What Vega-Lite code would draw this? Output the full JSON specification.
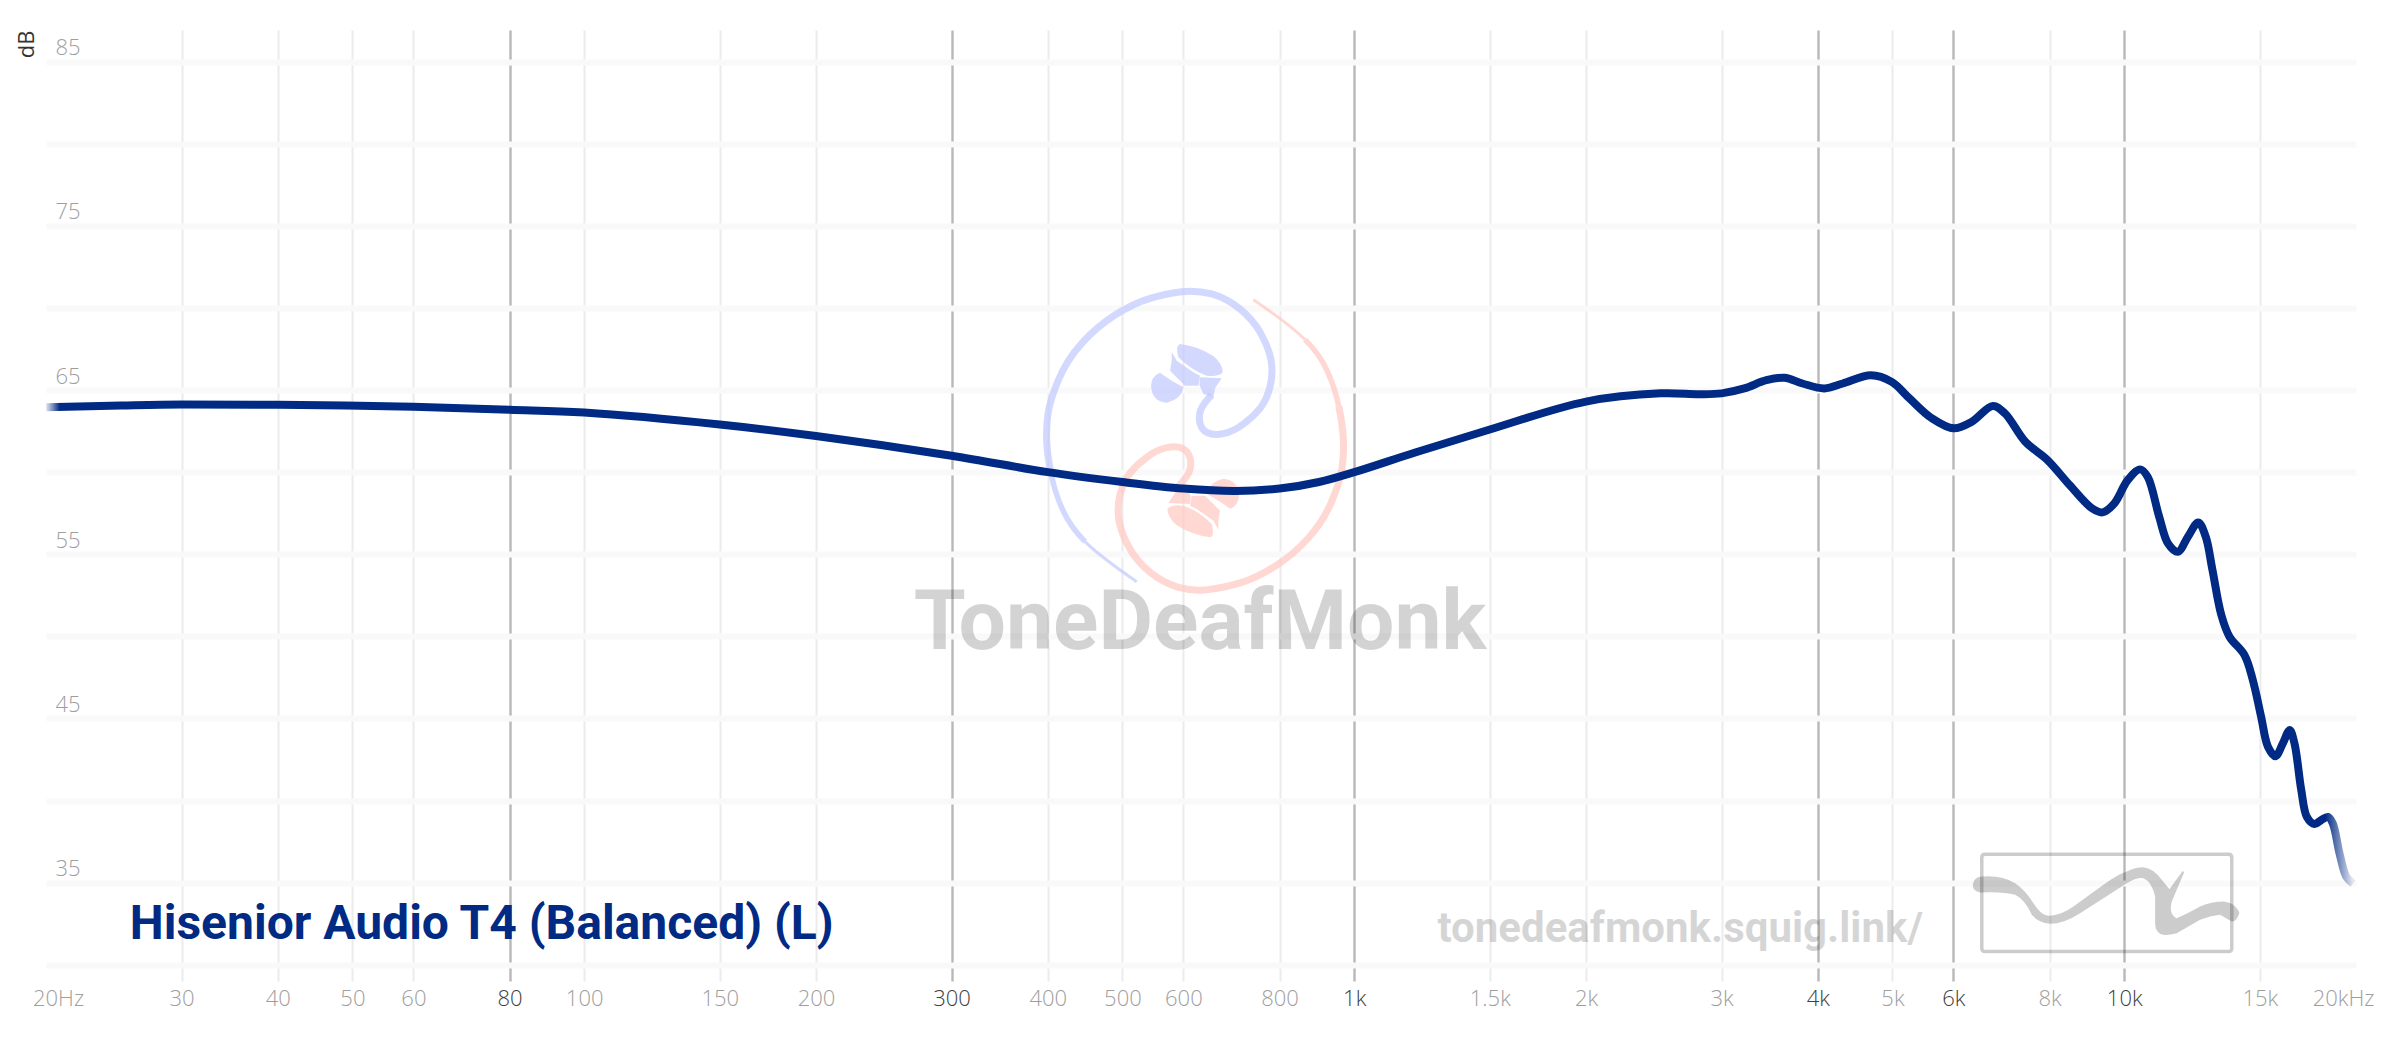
{
"$schema":"https://vega.github.io/schema/vega-lite/v6.json",
"width":2310,"height":951,"autosize":"none",
"padding":{"left":46,"top":30,"right":44,"bottom":57},
"background":"white",
"config":{"view":{"stroke":null}},
"datasets":{"curve":[
{"freq":20,"db":63.96},{"freq":25,"db":64.06},{"freq":30,"db":64.12},{"freq":40,"db":64.1},{"freq":60,"db":63.98},{"freq":80,"db":63.8},{"freq":100,"db":63.63},{"freq":150,"db":62.9},{"freq":200,"db":62.2},{"freq":300,"db":61},{"freq":400,"db":60},{"freq":500,"db":59.4},{"freq":600,"db":59},{"freq":700,"db":58.85},{"freq":800,"db":59},{"freq":900,"db":59.4},{"freq":1000,"db":60},{"freq":1200,"db":61.2},{"freq":1500,"db":62.6},{"freq":2000,"db":64.3},{"freq":2500,"db":64.8},{"freq":2810,"db":64.75},{"freq":3000,"db":64.8},{"freq":3210,"db":65.1},{"freq":3430,"db":65.6},{"freq":3620,"db":65.75},{"freq":3820,"db":65.4},{"freq":4080,"db":65.1},{"freq":4310,"db":65.4},{"freq":4690,"db":65.9},{"freq":4990,"db":65.5},{"freq":5260,"db":64.5},{"freq":5620,"db":63.3},{"freq":6010,"db":62.67},{"freq":6340,"db":63.07},{"freq":6750,"db":64.03},{"freq":7000,"db":63.58},{"freq":7440,"db":61.85},{"freq":7950,"db":60.74},{"freq":8500,"db":59.2},{"freq":9080,"db":57.8},{"freq":9370,"db":57.55},{"freq":9710,"db":58.1},{"freq":10100,"db":59.5},{"freq":10490,"db":60.17},{"freq":10730,"db":59.7},{"freq":11100,"db":57.3},{"freq":11400,"db":55.66},{"freq":11740,"db":55.15},{"freq":12100,"db":56.07},{"freq":12480,"db":56.94},{"freq":12760,"db":56.07},{"freq":13020,"db":54.04},{"freq":13370,"db":51.3},{"freq":13700,"db":49.98},{"freq":14330,"db":48.86},{"freq":14690,"db":47.34},{"freq":15060,"db":45.1},{"freq":15370,"db":43.28},{"freq":15720,"db":42.7},{"freq":16070,"db":43.48},{"freq":16400,"db":44.29},{"freq":16640,"db":43.48},{"freq":16980,"db":40.64},{"freq":17270,"db":39},{"freq":17670,"db":38.57},{"freq":18020,"db":38.81},{"freq":18390,"db":39},{"freq":18660,"db":38.6},{"freq":19040,"db":36.78},{"freq":19430,"db":35.36},{"freq":19820,"db":34.95}
]},
"encoding":{
"x":{"field":"freq","type":"quantitative","scale":{"type":"log","domain":[20,20000],"nice":false},
"axis":{"title":null,"values":[20,30,40,50,60,80,100,150,200,300,400,500,600,800,1000,1500,2000,3000,4000,5000,6000,8000,10000,15000,20000],
"domain":false,"ticks":false,"labelPadding":7,"labelFont":"Open Sans","labelFontSize":22,"labelFontWeight":300,"labelBound":false,"labelFlush":false,"labelOverlap":false,
"labelExpr":"datum.value==20?'20Hz':datum.value==20000?'20kHz':datum.value>=1000?(datum.value/1000)+'k':''+datum.value",
"labelColor":{"condition":{"test":"datum.value==80||datum.value==300||datum.value==1000||datum.value==4000||datum.value==6000||datum.value==10000","value":"#404040"},"value":"#9e9e9e"},
"labelOffset":{"condition":[{"test":"datum.value==20","value":12},{"test":"datum.value==20000","value":-13}],"value":0},
"grid":true,
"gridColor":{"condition":[{"test":"datum.value==20||datum.value==20000","value":"transparent"},{"test":"datum.value==80||datum.value==300||datum.value==1000||datum.value==4000||datum.value==6000||datum.value==10000","value":"#b8b8b8"}],"value":"#ebebeb"},
"gridWidth":{"condition":{"test":"datum.value==80||datum.value==300||datum.value==1000||datum.value==4000||datum.value==6000||datum.value==10000","value":2.4},"value":2}}},
"y":{"field":"db","type":"quantitative","scale":{"domain":[29.01,86.93],"nice":false,"zero":false},
"axis":{"title":"dB","titleFont":"Open Sans","titleFontSize":22,"titleFontWeight":"normal","titleColor":"#333333","titleX":-8,"titleY":14,"titleAnchor":"middle",
"values":[30,35,40,45,50,55,60,65,70,75,80,85],"domain":false,"ticks":false,"labelFont":"Open Sans","labelFontSize":22,"labelFontWeight":300,"labelColor":"#9e9e9e","labelAlign":"left","labelPadding":-9,"labelOffset":-7,"labelBaseline":"alphabetic","labelBound":false,"labelOverlap":false,
"labelExpr":"datum.value%10==5?''+datum.value:''",
"grid":true,"gridColor":"#f9f9f9","gridWidth":6}}
},
"layer":[
{"data":{"values":[{"freq":621.3,"db":61.92}]},"mark":{"type":"point","filled":false,"size":0.4444,"opacity":1,"fillOpacity":0,"strokeOpacity":0.7,"stroke":"#c0c8ff","strokeWidth":3,"shape":"M-175,423 Q-285,348 -330,303"}},
{"data":{"values":[{"freq":621.3,"db":61.92}]},"mark":{"type":"point","filled":false,"size":0.4444,"opacity":1,"fillOpacity":0,"strokeOpacity":0.7,"stroke":"#c0c8ff","strokeWidth":5.5,"shape":"M-330,303 Q-375,258 -397,208 Q-420,158 -431,103"}},
{"data":{"values":[{"freq":621.3,"db":61.92}]},"mark":{"type":"point","filled":false,"size":0.4444,"opacity":1,"fillOpacity":0,"strokeOpacity":0.7,"stroke":"#c0c8ff","strokeWidth":7,"shape":"M-431,103 Q-443,48 -445,3 Q-447,-42 -441,-82 Q-435,-122 -410,-182 Q-385,-242 -340,-292 Q-295,-342 -240,-377 Q-185,-412 -135,-427 Q-85,-442 -40,-447 Q5,-452 50,-440 Q95,-427 135,-395 Q175,-362 197,-322 Q220,-282 228,-242 Q235,-202 225,-162 Q215,-122 195,-97 Q175,-72 145,-50 Q115,-27 85,-21 Q55,-15 37,-24 Q20,-32 15,-52 Q10,-72 17,-92 Q25,-112 50,-137"}},
{"data":{"values":[{"freq":621.3,"db":61.92}]},"mark":{"type":"point","filled":true,"size":0.4444,"opacity":0.7,"fill":"#c0c8ff","strokeWidth":0,"shape":"M-45,-290 Q5,-285 55,-254 Q83,-230 83,-205 Q70,-190 35,-195 Q-10,-210 -50,-250 Q-60,-285 -45,-290 Z M-70,-267 L-55,-240 L-5,-205 L15,-195 L10,-165 L-30,-165 L-75,-210 L-70,-240 Z M15,-190 L80,-187 L60,-157 L55,-132 L25,-140 L13,-167 Z M-105,-204 Q-80,-185 -35,-160 Q-40,-125 -85,-114 Q-130,-118 -132,-165 Q-130,-195 -105,-204 Z"}},
{"data":{"values":[{"freq":621.3,"db":61.92}]},"mark":{"type":"point","filled":false,"angle":180,"size":0.4444,"opacity":1,"fillOpacity":0,"strokeOpacity":0.7,"stroke":"#ffc8c0","strokeWidth":3,"shape":"M-175,423 Q-285,348 -330,303"}},
{"data":{"values":[{"freq":621.3,"db":61.92}]},"mark":{"type":"point","filled":false,"angle":180,"size":0.4444,"opacity":1,"fillOpacity":0,"strokeOpacity":0.7,"stroke":"#ffc8c0","strokeWidth":5.5,"shape":"M-330,303 Q-375,258 -397,208 Q-420,158 -431,103"}},
{"data":{"values":[{"freq":621.3,"db":61.92}]},"mark":{"type":"point","filled":false,"angle":180,"size":0.4444,"opacity":1,"fillOpacity":0,"strokeOpacity":0.7,"stroke":"#ffc8c0","strokeWidth":7,"shape":"M-431,103 Q-443,48 -445,3 Q-447,-42 -441,-82 Q-435,-122 -410,-182 Q-385,-242 -340,-292 Q-295,-342 -240,-377 Q-185,-412 -135,-427 Q-85,-442 -40,-447 Q5,-452 50,-440 Q95,-427 135,-395 Q175,-362 197,-322 Q220,-282 228,-242 Q235,-202 225,-162 Q215,-122 195,-97 Q175,-72 145,-50 Q115,-27 85,-21 Q55,-15 37,-24 Q20,-32 15,-52 Q10,-72 17,-92 Q25,-112 50,-137"}},
{"data":{"values":[{"freq":621.3,"db":61.92}]},"mark":{"type":"point","filled":true,"angle":180,"size":0.4444,"opacity":0.7,"fill":"#ffc8c0","strokeWidth":0,"shape":"M-45,-290 Q5,-285 55,-254 Q83,-230 83,-205 Q70,-190 35,-195 Q-10,-210 -50,-250 Q-60,-285 -45,-290 Z M-70,-267 L-55,-240 L-5,-205 L15,-195 L10,-165 L-30,-165 L-75,-210 L-70,-240 Z M15,-190 L80,-187 L60,-157 L55,-132 L25,-140 L13,-167 Z M-105,-204 Q-80,-185 -35,-160 Q-40,-125 -85,-114 Q-130,-118 -132,-165 Q-130,-195 -105,-204 Z"}},
{"data":{"values":[{"freq":630.6,"db":50.76,"label":"ToneDeafMonk"}]},"mark":{"type":"text","font":"Roboto","fontWeight":"bold","fontSize":84,"align":"center","baseline":"middle","fill":"#000000","opacity":0.17},"encoding":{"text":{"field":"label"}}},
{"data":{"values":[{"freq":2651,"db":32.18,"label":"tonedeafmonk.squig.link/"}]},"mark":{"type":"text","font":"Roboto","fontWeight":"bold","fontSize":42,"align":"center","baseline":"middle","fill":"#000000","opacity":0.16},"encoding":{"text":{"field":"label"}}},
{"data":{"values":[{"freq":9492,"db":33.75}]},"mark":{"type":"point","filled":false,"size":0.4444,"opacity":1,"fillOpacity":0,"strokeOpacity":0.2,"stroke":"#000000","strokeWidth":3.5,"shape":"M-365,-147 H365 Q375,-147 375,-137 V135 Q375,145 365,145 H-365 Q-375,145 -375,135 V-137 Q-375,-147 -365,-147 Z"}},
{"data":{"values":[{"freq":9492,"db":33.75}]},"mark":{"type":"point","filled":true,"size":0.4444,"opacity":0.2,"fill":"#000000","strokeWidth":0,"shape":"M-375,-80 Q-315,-85 -275,-60 Q-245,-40 -220,0 Q-195,40 -170,38 Q-135,35 -100,10 L-10,-55 Q30,-85 60,-95 Q85,-108 110,-108 Q140,-105 165,-70 L188,-42 L228,-97 L232,-92 L195,-5 Q185,35 210,45 Q245,30 280,10 Q315,-5 350,-5 Q375,-2 385,10 Q400,25 397,32 Q390,55 375,55 L340,35 Q310,38 280,50 L210,90 Q185,97 170,95 Q145,90 145,60 L145,-20 Q135,-65 110,-75 Q90,-78 60,-60 L-80,30 Q-130,62 -170,62 Q-205,60 -225,35 Q-245,-10 -275,-25 Q-310,-35 -380,-32 Q-402,-35 -402,-55 Q-400,-78 -375,-80 Z"}},
{"data":{"name":"curve"},"mark":{"type":"line","interpolate":"catmull-rom","strokeWidth":8,"strokeCap":"butt","color":{"gradient":"linear","x1":0,"y1":0,"x2":1,"y2":0,"stops":[{"offset":0,"color":"rgba(0,42,131,0.1)"},{"offset":0.006,"color":"#002a83"},{"offset":0.988,"color":"#002a83"},{"offset":1,"color":"rgba(0,42,131,0.1)"}]}}},
{"data":{"values":[{"freq":25.7,"db":32.45,"label":"Hisenior Audio T4 (Balanced) (L)"}]},"mark":{"type":"text","font":"Roboto","fontWeight":"bold","fontSize":48,"align":"left","baseline":"middle","fill":"#002a83"},"encoding":{"text":{"field":"label"}}}
]
}
